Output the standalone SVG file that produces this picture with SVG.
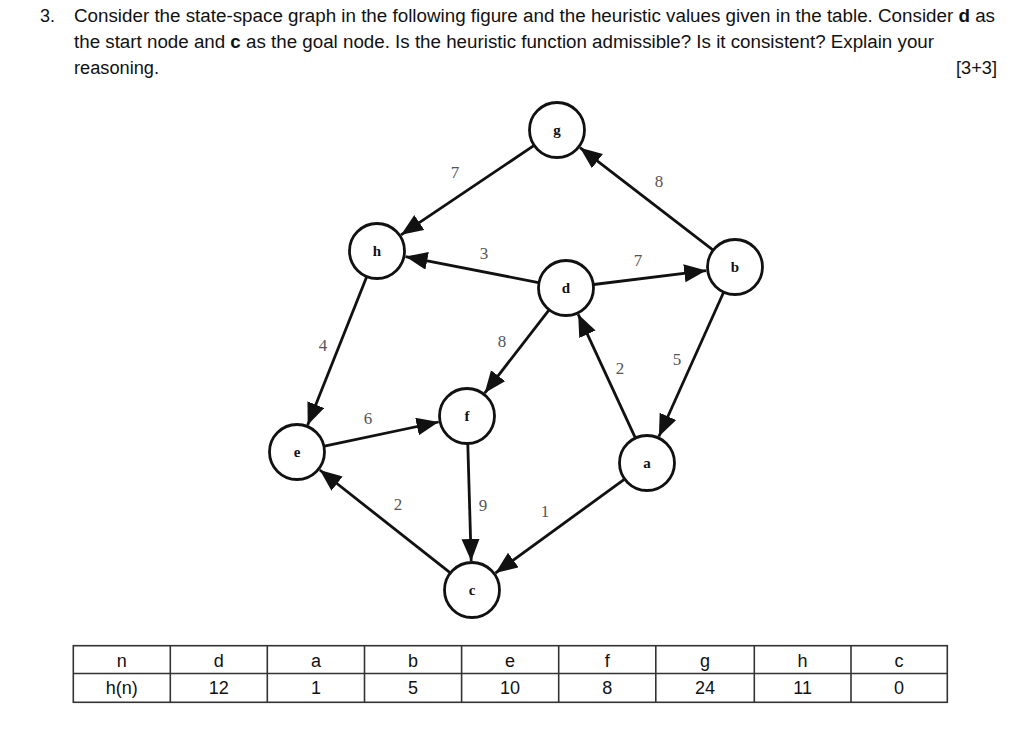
<svg xmlns="http://www.w3.org/2000/svg" width="1024" height="741" viewBox="0 0 1024 741">
<style>
.q{font-family:"Liberation Sans","Open Sans",sans-serif;font-size:18px;fill:#111}
.nd circle{fill:#fff;stroke:#111;stroke-width:2.8}
.nd text{font-family:"Liberation Serif",serif;font-weight:bold;font-size:15px;fill:#111;text-anchor:middle}
.e line{stroke:#111;stroke-width:2.8;fill:none}
.w{font-family:"Liberation Serif",serif;font-size:17px;fill:#555;text-anchor:middle}
.t{font-family:"Liberation Sans","Open Sans",sans-serif;font-size:18px;fill:#111;text-anchor:middle}
.g line,.g rect{stroke:#333;stroke-width:1.6;fill:none}
</style>
<defs>
<marker id="ar" markerUnits="userSpaceOnUse" markerWidth="24" markerHeight="20" refX="22" refY="9" orient="auto">
<path d="M0,0 L22,9 L0,18 z" fill="#111"/>
</marker>
</defs>
<rect width="1024" height="741" fill="#fff"/>
<text class="q" x="40" y="22">3.</text>
<text class="q" x="74" y="22" textLength="921" lengthAdjust="spacingAndGlyphs">Consider the state-space graph in the following figure and the heuristic values given in the table. Consider <tspan font-weight="bold">d</tspan> as</text>
<text class="q" x="74" y="48" textLength="860" lengthAdjust="spacingAndGlyphs">the start node and <tspan font-weight="bold">c</tspan> as the goal node. Is the heuristic function admissible? Is it consistent? Explain your</text>
<text class="q" x="74" y="74" textLength="85" lengthAdjust="spacingAndGlyphs">reasoning.</text>
<text class="q" x="956" y="74" textLength="41" lengthAdjust="spacingAndGlyphs">[3+3]</text>
<g id="edges" class="e">
<line x1="533.8" y1="145.6" x2="401.1" y2="234.8" marker-end="url(#ar)"/>
<line x1="712.8" y1="249.9" x2="580" y2="147.7" marker-end="url(#ar)"/>
<line x1="538.5" y1="282.6" x2="405.5" y2="256.6" marker-end="url(#ar)"/>
<line x1="593.8" y1="284.5" x2="706.2" y2="270.6" marker-end="url(#ar)"/>
<line x1="366.6" y1="277" x2="307.7" y2="425.1" marker-end="url(#ar)"/>
<line x1="548.9" y1="310.1" x2="484.7" y2="393.1" marker-end="url(#ar)"/>
<line x1="635.2" y1="437.6" x2="578.2" y2="314.3" marker-end="url(#ar)"/>
<line x1="723.5" y1="292.5" x2="658.9" y2="436.5" marker-end="url(#ar)"/>
<line x1="324.4" y1="446.2" x2="438.6" y2="422" marker-end="url(#ar)"/>
<line x1="467.8" y1="444" x2="471.2" y2="561" marker-end="url(#ar)"/>
<line x1="450" y1="572.7" x2="319.8" y2="470" marker-end="url(#ar)"/>
<line x1="624.3" y1="479.4" x2="495.5" y2="573" marker-end="url(#ar)"/>
<text class="w" x="455" y="178">7</text>
<text class="w" x="659" y="187">8</text>
<text class="w" x="484" y="259">3</text>
<text class="w" x="638" y="266">7</text>
<text class="w" x="323" y="351">4</text>
<text class="w" x="502" y="347">8</text>
<text class="w" x="620" y="374">2</text>
<text class="w" x="677" y="365">5</text>
<text class="w" x="368" y="424">6</text>
<text class="w" x="398" y="510">2</text>
<text class="w" x="483" y="511">9</text>
<text class="w" x="545" y="517">1</text>
</g>
<g id="node-g" class="nd"><circle cx="557" cy="130" r="27.5"/><text x="557" y="135">g</text></g>
<g id="node-h" class="nd"><circle cx="377" cy="251" r="27.5"/><text x="377" y="256">h</text></g>
<g id="node-d" class="nd"><circle cx="566" cy="288" r="27.5"/><text x="566" y="293">d</text></g>
<g id="node-b" class="nd"><circle cx="735" cy="267" r="27.5"/><text x="735" y="272">b</text></g>
<g id="node-e" class="nd"><circle cx="297" cy="452" r="27.5"/><text x="297" y="457">e</text></g>
<g id="node-f" class="nd"><circle cx="467" cy="416" r="27.5"/><text x="467" y="421">f</text></g>
<g id="node-a" class="nd"><circle cx="647" cy="463" r="27.5"/><text x="647" y="468">a</text></g>
<g id="node-c" class="nd"><circle cx="472" cy="590" r="27.5"/><text x="472" y="595">c</text></g>
<g id="table" class="g">
<rect x="73.3" y="645.7" width="874" height="56.6"/>
<line x1="73.3" y1="673.5" x2="947.3" y2="673.5"/>
<line x1="170.3" y1="645.7" x2="170.3" y2="702.3"/>
<line x1="267.3" y1="645.7" x2="267.3" y2="702.3"/>
<line x1="364.5" y1="645.7" x2="364.5" y2="702.3"/>
<line x1="461.6" y1="645.7" x2="461.6" y2="702.3"/>
<line x1="558.7" y1="645.7" x2="558.7" y2="702.3"/>
<line x1="655.8" y1="645.7" x2="655.8" y2="702.3"/>
<line x1="754.3" y1="645.7" x2="754.3" y2="702.3"/>
<line x1="851" y1="645.7" x2="851" y2="702.3"/>
<text class="t" x="121.8" y="667">n</text>
<text class="t" x="218.8" y="667">d</text>
<text class="t" x="315.9" y="667">a</text>
<text class="t" x="413" y="667">b</text>
<text class="t" x="510.1" y="667">e</text>
<text class="t" x="607.2" y="667">f</text>
<text class="t" x="705" y="667">g</text>
<text class="t" x="802.6" y="667">h</text>
<text class="t" x="899.1" y="667">c</text>
<text class="t" x="121.8" y="694">h(n)</text>
<text class="t" x="218.8" y="694">12</text>
<text class="t" x="315.9" y="694">1</text>
<text class="t" x="413" y="694">5</text>
<text class="t" x="510.1" y="694">10</text>
<text class="t" x="607.2" y="694">8</text>
<text class="t" x="705" y="694">24</text>
<text class="t" x="802.6" y="694">11</text>
<text class="t" x="899.1" y="694">0</text>
</g>
</svg>
